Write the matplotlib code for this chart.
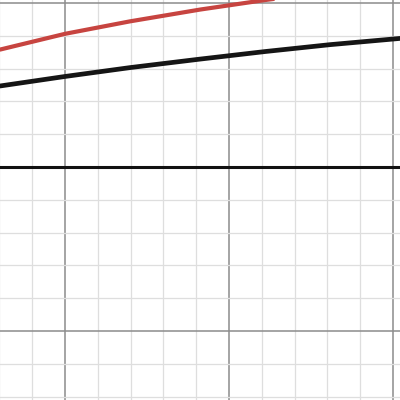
import matplotlib
matplotlib.use("Agg")
import matplotlib.pyplot as plt
import numpy as np

# curve samples (grid units, minor step = 1)
black_x = [8.02, 10.0, 11.98, 14.12, 16.10, 18.08, 20.21]
black_y = [2.47, 2.76, 3.03, 3.29, 3.52, 3.73, 3.92]
red_x = [8.02, 10.0, 11.98, 14.12, 16.10, 18.08]
red_y = [3.58, 4.06, 4.44, 4.80, 5.09, 5.34]

PX = 32.8  # pixels per grid unit
X_LIM = (10 - 65 / PX, 10 + 335 / PX)
Y_LIM = (-233 / PX, 167 / PX)

fig = plt.figure(figsize=(4, 4), dpi=100)
ax = fig.add_axes([0, 0, 1, 1])
ax.set_xlim(*X_LIM)
ax.set_ylim(*Y_LIM)
ax.axis("off")

for v in np.arange(8, 21):
    major = v % 5 == 0
    ax.axvline(v, color="#8c8c8c" if major else "#dedede", lw=1.1 if major else 0.9, zorder=1)
for v in np.arange(-7, 6):
    if v == 0:
        continue
    major = v % 5 == 0
    ax.axhline(v, color="#8c8c8c" if major else "#dedede", lw=1.1 if major else 0.9, zorder=1)
ax.axhline(0, color="#111111", lw=2.2, zorder=2)

ax.plot(black_x, black_y, color="#151515", lw=3.4, solid_capstyle="round", zorder=3)
ax.plot(red_x, red_y, color="#c74440", lw=3.0, solid_capstyle="round", zorder=3)

fig.savefig("out.png", dpi=100)
